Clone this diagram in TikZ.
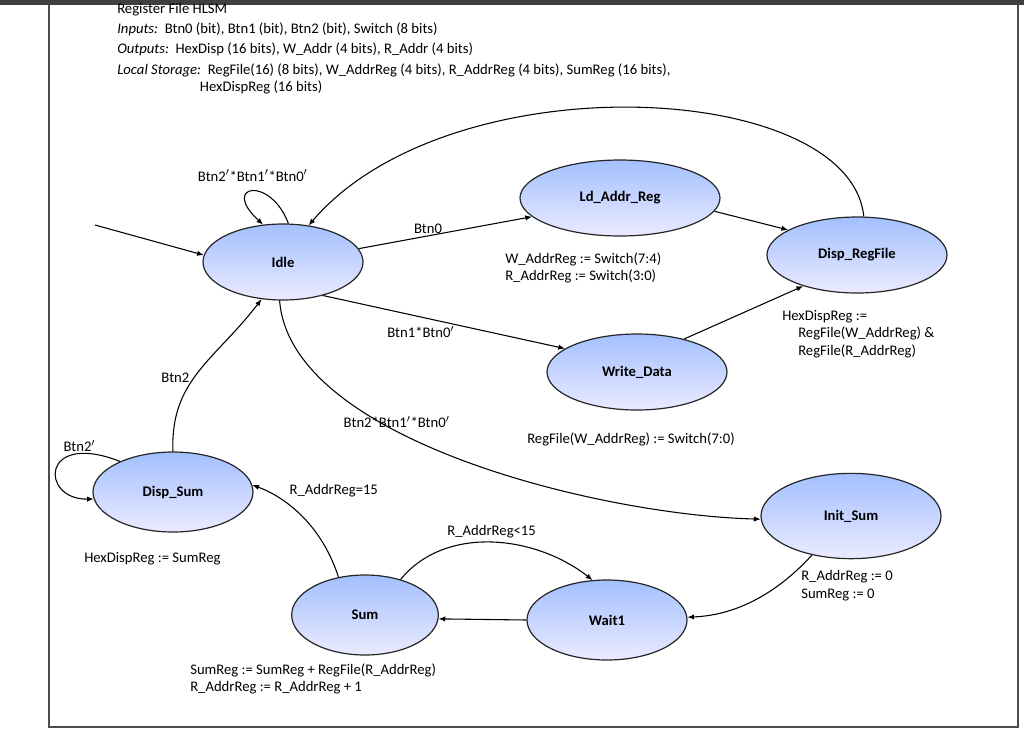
\documentclass[tikz,border=0pt]{standalone}
\usepackage{fontspec}
\setmainfont{Carlito}
\usetikzlibrary{arrows.meta,shapes.geometric}
\begin{document}
\begin{tikzpicture}[x=0.75pt,y=-0.75pt,
  st/.style={ellipse,draw=black!85,line width=0.9pt,top color=blue!30!cyan!20!white!80!blue,bottom color=blue!8!white,font=\bfseries\fontsize{11}{13}\selectfont,inner sep=0pt},
  tr/.style={-{Latex[length=5pt,width=4pt]},line width=0.8pt},
  lb/.style={font=\fontsize{11}{13}\selectfont,inner sep=1pt},
  act/.style={font=\fontsize{11}{13.2}\selectfont,align=left,anchor=north west,inner sep=0pt}]
\useasboundingbox (0,0) rectangle (1024,733);
\fill[black!75] (0,0) rectangle (1024,5);
\draw[black!70,line width=0.8pt] (49,5) -- (49,727) -- (1018,727) -- (1018,5);
\node[act] (hdr) at (117,3) {Register File HLSM\\[2pt]
\textit{Inputs:}\ \ Btn0 (bit), Btn1 (bit), Btn2 (bit), Switch (8 bits)\\[2pt]
\textit{Outputs:}\ \ HexDisp (16 bits), W\_Addr (4 bits), R\_Addr (4 bits)\\[2pt]
\textit{Local Storage:}\ \ RegFile(16) (8 bits), W\_AddrReg (4 bits), R\_AddrReg (4 bits), SumReg (16 bits),\\
\hspace{62pt}HexDispReg (16 bits)};
\node[st,minimum width=120pt,minimum height=57pt] (idle) at (283,262) {Idle};
\node[st,minimum width=150pt,minimum height=57pt] (ld) at (620,198) {Ld\_Addr\_Reg};
\node[st,minimum width=135pt,minimum height=57pt] (disp) at (857,255) {Disp\_RegFile};
\node[st,minimum width=135pt,minimum height=57pt] (wd) at (637,372) {Write\_Data};
\node[st,minimum width=135pt,minimum height=64pt] (init) at (851,516) {Init\_Sum};
\node[st,minimum width=120pt,minimum height=60pt] (wait) at (607,620) {Wait1};
\node[st,minimum width=110pt,minimum height=60pt] (sum) at (365,615) {Sum};
\node[st,minimum width=120pt,minimum height=60pt] (ds) at (173,492) {Disp\_Sum};
\coordinate (start) at (95,225);
\draw[tr] (start) -- (idle.175);
\draw[tr] (idle.82) .. controls (270,175) and (220,185) .. (idle.118) node[lb,pos=0.5,above=6pt] {Btn2$'$*Btn1$'$*Btn0$'$};
\draw[tr] (idle.10) -- node[lb,above,pos=0.4] {Btn0} (ld.192);
\draw[tr] (idle.-40) -- node[lb,below left,pos=0.55] {Btn1*Btn0$'$} (wd.162);
\draw[tr] (idle.-95) .. controls (290,440) and (600,515) .. (init.182) node[lb,pos=0.38,above=1pt] {Btn2*Btn1$'$*Btn0$'$};
\draw[tr] (ld.-8) -- (disp.160);
\draw[tr] (wd.35) -- (disp.-150);
\draw[tr] (disp.80) .. controls (850,80) and (450,60) .. (idle.55);
\draw[tr] (ds.90) .. controls (170,380) and (215,360) .. (idle.-120) node[lb,pos=0.45,left=2pt] {Btn2};
\draw[tr] (ds.150) .. controls (40,430) and (40,500) .. (ds.185) node[lb,pos=0.1,above left=1pt] {Btn2$'$};
\draw[tr] (sum.125) .. controls (320,520) and (280,495) .. (ds.5) node[lb,pos=0.7,above right,xshift=6pt] {R\_AddrReg=15};
\draw[tr] (sum.45) .. controls (445,525) and (535,535) .. (wait.110) node[lb,pos=0.5,above=2pt] {R\_AddrReg<15};
\draw[tr] (wait.180) -- (sum.-3);
\draw[tr] (init.-135) .. controls (780,590) and (740,615) .. (wait.2);
\node[act] (a1) at (505,252) {W\_AddrReg := Switch(7:4)\\R\_AddrReg := Switch(3:0)};
\node[act] (a2) at (782,310) {HexDispReg :=\\\hspace{12pt}RegFile(W\_AddrReg) \&\\\hspace{12pt}RegFile(R\_AddrReg)};
\node[act] (a3) at (527,432) {RegFile(W\_AddrReg) := Switch(7:0)};
\node[act] (a4) at (801,570) {R\_AddrReg := 0\\SumReg := 0};
\node[act] (a5) at (84,552) {HexDispReg := SumReg};
\node[act] (a6) at (190,663) {SumReg := SumReg + RegFile(R\_AddrReg)\\R\_AddrReg := R\_AddrReg + 1};
\end{tikzpicture}
\end{document}
